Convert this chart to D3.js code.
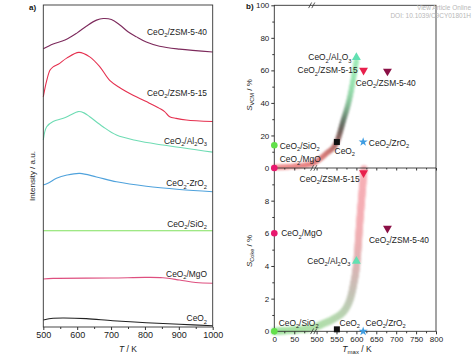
<!DOCTYPE html>
<html><head><meta charset="utf-8">
<script src="https://cdn.jsdelivr.net/npm/d3@7"></script>
<style>body{margin:0;background:#fff}svg{display:block;font-family:"Liberation Sans",Arial,sans-serif}</style>
</head><body><svg id="c" width="474" height="358"></svg>
<script>
// ---------- Panel a: intensity curves [T (K), intensity (a.u.)] ----------
const curveZSM40 = [[500,86.4],[529,87.9],[564,89.1],[598,91.2],[628,93.5],[657,95.3],[677,95.8],[701,95.5],[726,93.8],[750,91.7],[775,90.1],[804,88.5],[843,87.2],[902,86.3],[1000,85.4]];
const curveZSM15 = [[500,71.5],[510,76.5],[520,79.8],[529,80.8],[544,81.6],[569,83.5],[605,85.3],[637,83.9],[667,80.8],[696,76.6],[726,74.3],[765,72],[804,70],[843,67.9],[858,66.9],[873,65.3],[892,64.8],[922,64.3],[1000,63.8]];
const curveAl2O3 = [[500,58.1],[510,62.2],[529,63.8],[559,64.8],[580,65.8],[603,66.9],[620,66.5],[637,65.3],[676,62.2],[716,59.6],[775,57.9],[853,56.5],[1000,54.3]];
const curveZrO2 = [[500,44.1],[515,44.7],[539,46.2],[570,47.2],[608,47.7],[657,46.6],[716,45.1],[804,43.7],[902,42.7],[1000,42.0]];
const curveSiO2 = [[500,29.9],[750,29.9],[1000,29.9]];
const curveMgO = [[500,14.9],[529,15.1],[700,15.2],[800,15.4],[853,15.3],[902,14.6],[950,13.8],[1000,13.6]];
const curveCeO2 = [[500,2.2],[529,2.7],[560,2.8],[627,2.6],[705,1.96],[804,1.34],[902,0.84],[1000,0.4]];
const seriesA = [
  {name:"CeO2/ZSM-5-40", data:curveZSM40, color:"#7d2a5c"},
  {name:"CeO2/ZSM-5-15", data:curveZSM15, color:"#e5304f"},
  {name:"CeO2/Al2O3", data:curveAl2O3, color:"#6fdcb4"},
  {name:"CeO2-ZrO2", data:curveZrO2, color:"#4fa2dc"},
  {name:"CeO2/SiO2", data:curveSiO2, color:"#7fe05c"},
  {name:"CeO2/MgO", data:curveMgO, color:"#de4f7f"},
  {name:"CeO2", data:curveCeO2, color:"#222222"}
];
const ticksA = [500,600,700,800,900,1000];
const minorTicksA = [550,650,750,850,950];

// ---------- Panel b ----------
const catalysts = ["CeO2/MgO","CeO2/SiO2","CeO2","CeO2/Al2O3","CeO2/ZSM-5-15","CeO2/ZSM-5-40","CeO2/ZrO2"];
const tMax  = [0, 0, 551, 600, 618, 678, 617];
const sVCM  = [0, 14, 16, 68, 60, 59.5, 16];
const sCoke = [6, 0, 0.12, 4.3, 9.7, 6.3, 0];
const markerShapes = ["circle","circle","square","triUp","triDown","triDown","star"];
const markerColors = ["#e8186e","#62e04a","#111111","#62e0b2","#e8204c","#8b1046","#3f9de2"];
const ticksBx = [0,50,500,550,600,650,700,750,800];
const minorTicksBx = [25,75,525,575,625,675,725,775];
const ticksVCM = [0,20,40,60,80,100];
const minorVCM = [10,30,50,70,90];
const ticksCoke = [0,2,4,6,8];
const minorCoke = [1,3,5,7,9];
// guide bands [Tmax, value]
const guideVCM = [[0,0.4],[50,1.1],[95,2.6],[505,5],[525,9],[550,15.5],[567,29],[584,44],[596,60],[600,66]];
const guideCoke = [[0,0],[50,0.08],[95,0.2],[520,0.5],[542,0.75],[576,1.5],[592,2.75],[601,4.2],[609,6.85],[617,9.3],[619,9.95]];

const svg = d3.select("#c");
const axisColor = "#333";

function richText(sel, str, fs){
  // digits directly after a letter become subscripts
  const parts=[]; let i=0;
  const isSub = j => /\d/.test(str[j]) && j>0 && /[A-Za-z]/.test(str[j-1]);
  while(i<str.length){
    const sub = isSub(i); let j=i+1;
    if(sub){ while(j<str.length && /\d/.test(str[j])) j++; }
    else { while(j<str.length && !isSub(j)) j++; }
    parts.push({t:str.slice(i,j),sub}); i=j;
  }
  let shifted=false;
  parts.forEach(p=>{
    const ts = sel.append("tspan").text(p.t);
    if(p.sub){ ts.attr("font-size",fs*0.68).attr("dy",fs*0.28); shifted=true; }
    else if(shifted){ ts.attr("dy",-fs*0.28); shifted=false; }
  });
}

// ================= Panel a =================
const xA = d3.scaleLinear().domain([500,1000]).range([43.3,212.7]);
const yA = d3.scaleLinear().domain([0,100]).range([327,5]);
const gA = svg.append("g");
const lineA = d3.line().x(d=>xA(d[0])).y(d=>yA(d[1])).curve(d3.curveCatmullRom.alpha(0.5));
seriesA.forEach(s=>{
  gA.append("path").attr("d",lineA(s.data)).attr("fill","none").attr("stroke",s.color).attr("stroke-width",1.1);
});
gA.append("rect").attr("x",xA(500)).attr("y",yA(100)).attr("width",xA(1000)-xA(500)).attr("height",yA(0)-yA(100))
  .attr("fill","none").attr("stroke",axisColor).attr("stroke-width",0.9);
const axA = gA.append("g").attr("transform",`translate(0,${yA(0)})`)
  .call(d3.axisBottom(xA).tickValues(ticksA).tickSize(3).tickPadding(2).tickFormat(d3.format("d")));
gA.append("g").attr("transform",`translate(0,${yA(0)})`)
  .call(d3.axisBottom(xA).tickValues(minorTicksA).tickSize(2).tickFormat(""));
gA.selectAll(".domain").remove();
gA.selectAll(".tick line").attr("stroke",axisColor);
gA.selectAll(".tick text").filter(function(){return !this.textContent;}).remove();
axA.selectAll("text").attr("font-size",9).attr("font-family","Liberation Sans, Arial").attr("fill","#222");
// labels
const labelYA = [32,92.7,140.7,183.3,224,274,318.3];
seriesA.forEach((s,i)=>{
  const t=gA.append("text").attr("x",207).attr("y",labelYA[i]).attr("dy","0.35em").attr("text-anchor","end")
    .attr("font-size",8.4).attr("fill","#222");
  richText(t,s.name,8.4);
});
const tA = gA.append("text").attr("x",(xA(500)+xA(1000))/2).attr("y",352).attr("text-anchor","middle").attr("font-size",8.5).attr("fill","#222");
tA.append("tspan").attr("font-style","italic").text("T");
tA.append("tspan").text(" / K");
gA.append("text").attr("transform","translate(35,176) rotate(-90)").attr("text-anchor","middle").attr("font-size",8).attr("fill","#222").text("Intensity / a.u.");
gA.append("text").attr("x",29).attr("y",10).attr("font-size",8).attr("font-weight","bold").attr("fill","#111").text("a)");

// ================= Panel b =================
const xB = d3.scaleLinear().domain([0,100,494,800]).range([274.3,314.2,314.2,436]);
const yB1 = d3.scaleLinear().domain([0,100]).range([168,5.3]);
const yB2 = d3.scaleLinear().domain([0,10]).range([331.3,168]);
const gB = svg.append("g");
const defs = svg.append("defs");
defs.append("filter").attr("id","soft").attr("x","-20%").attr("y","-20%").attr("width","140%").attr("height","140%")
  .append("feGaussianBlur").attr("stdDeviation",0.9);

function band(data, yS, colors, width, opacity){
  const line = d3.line().x(d=>xB(d[0])).y(d=>yS(d[1])).curve(d3.curveMonotoneX);
  const tmp = gB.append("path").attr("d",line(data)).attr("fill","none").attr("stroke","none");
  const node = tmp.node(); const L = node.getTotalLength();
  const interp = d3.interpolateRgbBasis(colors);
  const g = gB.append("g").attr("filter","url(#soft)").attr("opacity",opacity);
  const N=140;
  for(let k=0;k<N;k++){
    const p0=node.getPointAtLength(L*k/N), p1=node.getPointAtLength(L*(k+1)/N);
    g.append("line").attr("x1",p0.x).attr("y1",p0.y).attr("x2",p1.x).attr("y2",p1.y)
      .attr("stroke",interp((k+0.5)/N)).attr("stroke-width",width).attr("stroke-linecap","round");
  }
  tmp.remove();
}
band(guideVCM, yB1, ["#f09090","#ec7e7e","#e07070","#c46a64","#3a3a3a","#7fbf92","#8fe3aa","#95e9b0"], 5, 0.9);
band(guideCoke, yB2, ["#8fdf8f","#9ddc96","#a8d7a0","#b5b8ac","#d6a6a6","#f2a2a6","#f4a0a8","#f5a3aa"], 7, 0.85);

// frames
gB.append("rect").attr("x",xB(0)).attr("y",yB1(100)).attr("width",xB(800)-xB(0)).attr("height",yB2(0)-yB1(100))
  .attr("fill","none").attr("stroke",axisColor).attr("stroke-width",0.9);
gB.append("line").attr("x1",xB(0)).attr("x2",xB(800)).attr("y1",yB1(0)).attr("y2",yB1(0)).attr("stroke",axisColor).attr("stroke-width",0.9);

function styleAxis(g, fs){
  g.select(".domain").remove();
  g.selectAll(".tick line").attr("stroke",axisColor);
  g.selectAll(".tick text").filter(function(){return !this.textContent;}).remove();
  g.selectAll("text").attr("font-size",fs).attr("font-family","Liberation Sans, Arial").attr("fill","#222");
}
// y axes
styleAxis(gB.append("g").attr("transform",`translate(${xB(0)},0)`).call(d3.axisLeft(yB1).tickValues(ticksVCM).tickSize(3).tickPadding(2).tickFormat(d3.format("d"))),8);
styleAxis(gB.append("g").attr("transform",`translate(${xB(0)},0)`).call(d3.axisLeft(yB1).tickValues(minorVCM).tickSize(2).tickFormat("")),8);
styleAxis(gB.append("g").attr("transform",`translate(${xB(0)},0)`).call(d3.axisLeft(yB2).tickValues(ticksCoke).tickSize(3).tickPadding(2).tickFormat(d3.format("d"))),8);
styleAxis(gB.append("g").attr("transform",`translate(${xB(0)},0)`).call(d3.axisLeft(yB2).tickValues(minorCoke).tickSize(2).tickFormat("")),8);
// x axes (bottom & middle)
styleAxis(gB.append("g").attr("transform",`translate(0,${yB2(0)})`).call(d3.axisBottom(xB).tickValues(ticksBx).tickSize(3).tickPadding(2).tickFormat(d3.format("d"))),8);
styleAxis(gB.append("g").attr("transform",`translate(0,${yB2(0)})`).call(d3.axisBottom(xB).tickValues(minorTicksBx).tickSize(2).tickFormat("")),8);
styleAxis(gB.append("g").attr("transform",`translate(0,${yB1(0)})`).call(d3.axisBottom(xB).tickValues(ticksBx.slice(1)).tickSize(2.5).tickFormat("")),8);
styleAxis(gB.append("g").attr("transform",`translate(0,${yB1(0)})`).call(d3.axisBottom(xB).tickValues(minorTicksBx).tickSize(1.5).tickFormat("")),8);

// axis break marks
[[yB1(100),-2.5],[yB1(0),-0.5],[yB2(0),-0.5]].forEach(([yy,off])=>{
  [-1.6,1.6].forEach(dx=>{
    gB.append("line").attr("x1",xB(100)+off+dx-1.5).attr("y1",yy+2.8).attr("x2",xB(100)+off+dx+1.5).attr("y2",yy-2.8)
      .attr("stroke",axisColor).attr("stroke-width",0.8);
  });
});

// markers
function marker(g, shape, x, y, color){
  if(shape==="circle") g.append("circle").attr("cx",x).attr("cy",y).attr("r",3.3).attr("fill",color);
  else if(shape==="square") g.append("rect").attr("x",x-3).attr("y",y-3).attr("width",6).attr("height",6).attr("fill",color);
  else {
    const sym = shape==="star" ? d3.symbolStar : d3.symbolTriangle;
    const size = shape==="star" ? 26 : 34;
    const rot = shape==="triDown" ? 180 : 0;
    g.append("path").attr("d",d3.symbol().type(sym).size(size)()).attr("transform",`translate(${x},${y}) rotate(${rot})`).attr("fill",color);
  }
}
const labOffVCM = [["start",5.5,-8.7],["start",5.5,0.4],["start",-2.3,8.7],["end",-5,0],["end",-6,0],["start",-31.7,11.6],["start",5.7,1]];
const labOffCoke = [["start",7,0.2],["start",4.4,-8.3],["start",2.7,-6.4],["end",-6,0],["end",-4,6.2],["start",-18.4,11.4],["start",2.3,-8.3]];
catalysts.forEach((c,i)=>{
  const x=xB(tMax[i]);
  [[yB1(sVCM[i]),labOffVCM[i]],[yB2(sCoke[i]),labOffCoke[i]]].forEach(([y,o])=>{
    marker(gB, markerShapes[i], x, y, markerColors[i]);
    const t=gB.append("text").attr("x",x+o[1]).attr("y",y+o[2]).attr("dy","0.35em").attr("text-anchor",o[0])
      .attr("font-size",8.4).attr("fill","#222");
    richText(t,c,8.4);
  });
});

// titles
const tB = gB.append("text").attr("x",357).attr("y",352).attr("text-anchor","middle").attr("font-size",8.5).attr("fill","#222");
tB.append("tspan").attr("font-style","italic").text("T");
tB.append("tspan").attr("font-size",6).attr("dy",2).text("max");
tB.append("tspan").attr("dy",-2).text(" / K");
const sv = gB.append("text").attr("transform","translate(252,95) rotate(-90)").attr("text-anchor","middle").attr("font-size",8).attr("fill","#222");
sv.append("tspan").attr("font-style","italic").text("S");
sv.append("tspan").attr("font-size",5.6).attr("dy",2).text("VCM");
sv.append("tspan").attr("dy",-2).text(" / %");
const sc = gB.append("text").attr("transform","translate(252,251) rotate(-90)").attr("text-anchor","middle").attr("font-size",8).attr("fill","#222");
sc.append("tspan").attr("font-style","italic").text("S");
sc.append("tspan").attr("font-size",5.6).attr("dy",2).text("Coke");
sc.append("tspan").attr("dy",-2).text(" / %");
gB.append("text").attr("x",246).attr("y",9).attr("font-size",8).attr("font-weight","bold").attr("fill","#111").text("b)");

// watermark
svg.append("text").attr("x",471).attr("y",10).attr("text-anchor","end").attr("font-size",6.5).attr("fill","#b8b8b8").text("View Article Online");
svg.append("text").attr("x",471).attr("y",17.5).attr("text-anchor","end").attr("font-size",6.5).attr("fill","#b8b8b8").text("DOI: 10.1039/C9CY01801H");
</script></body></html>
